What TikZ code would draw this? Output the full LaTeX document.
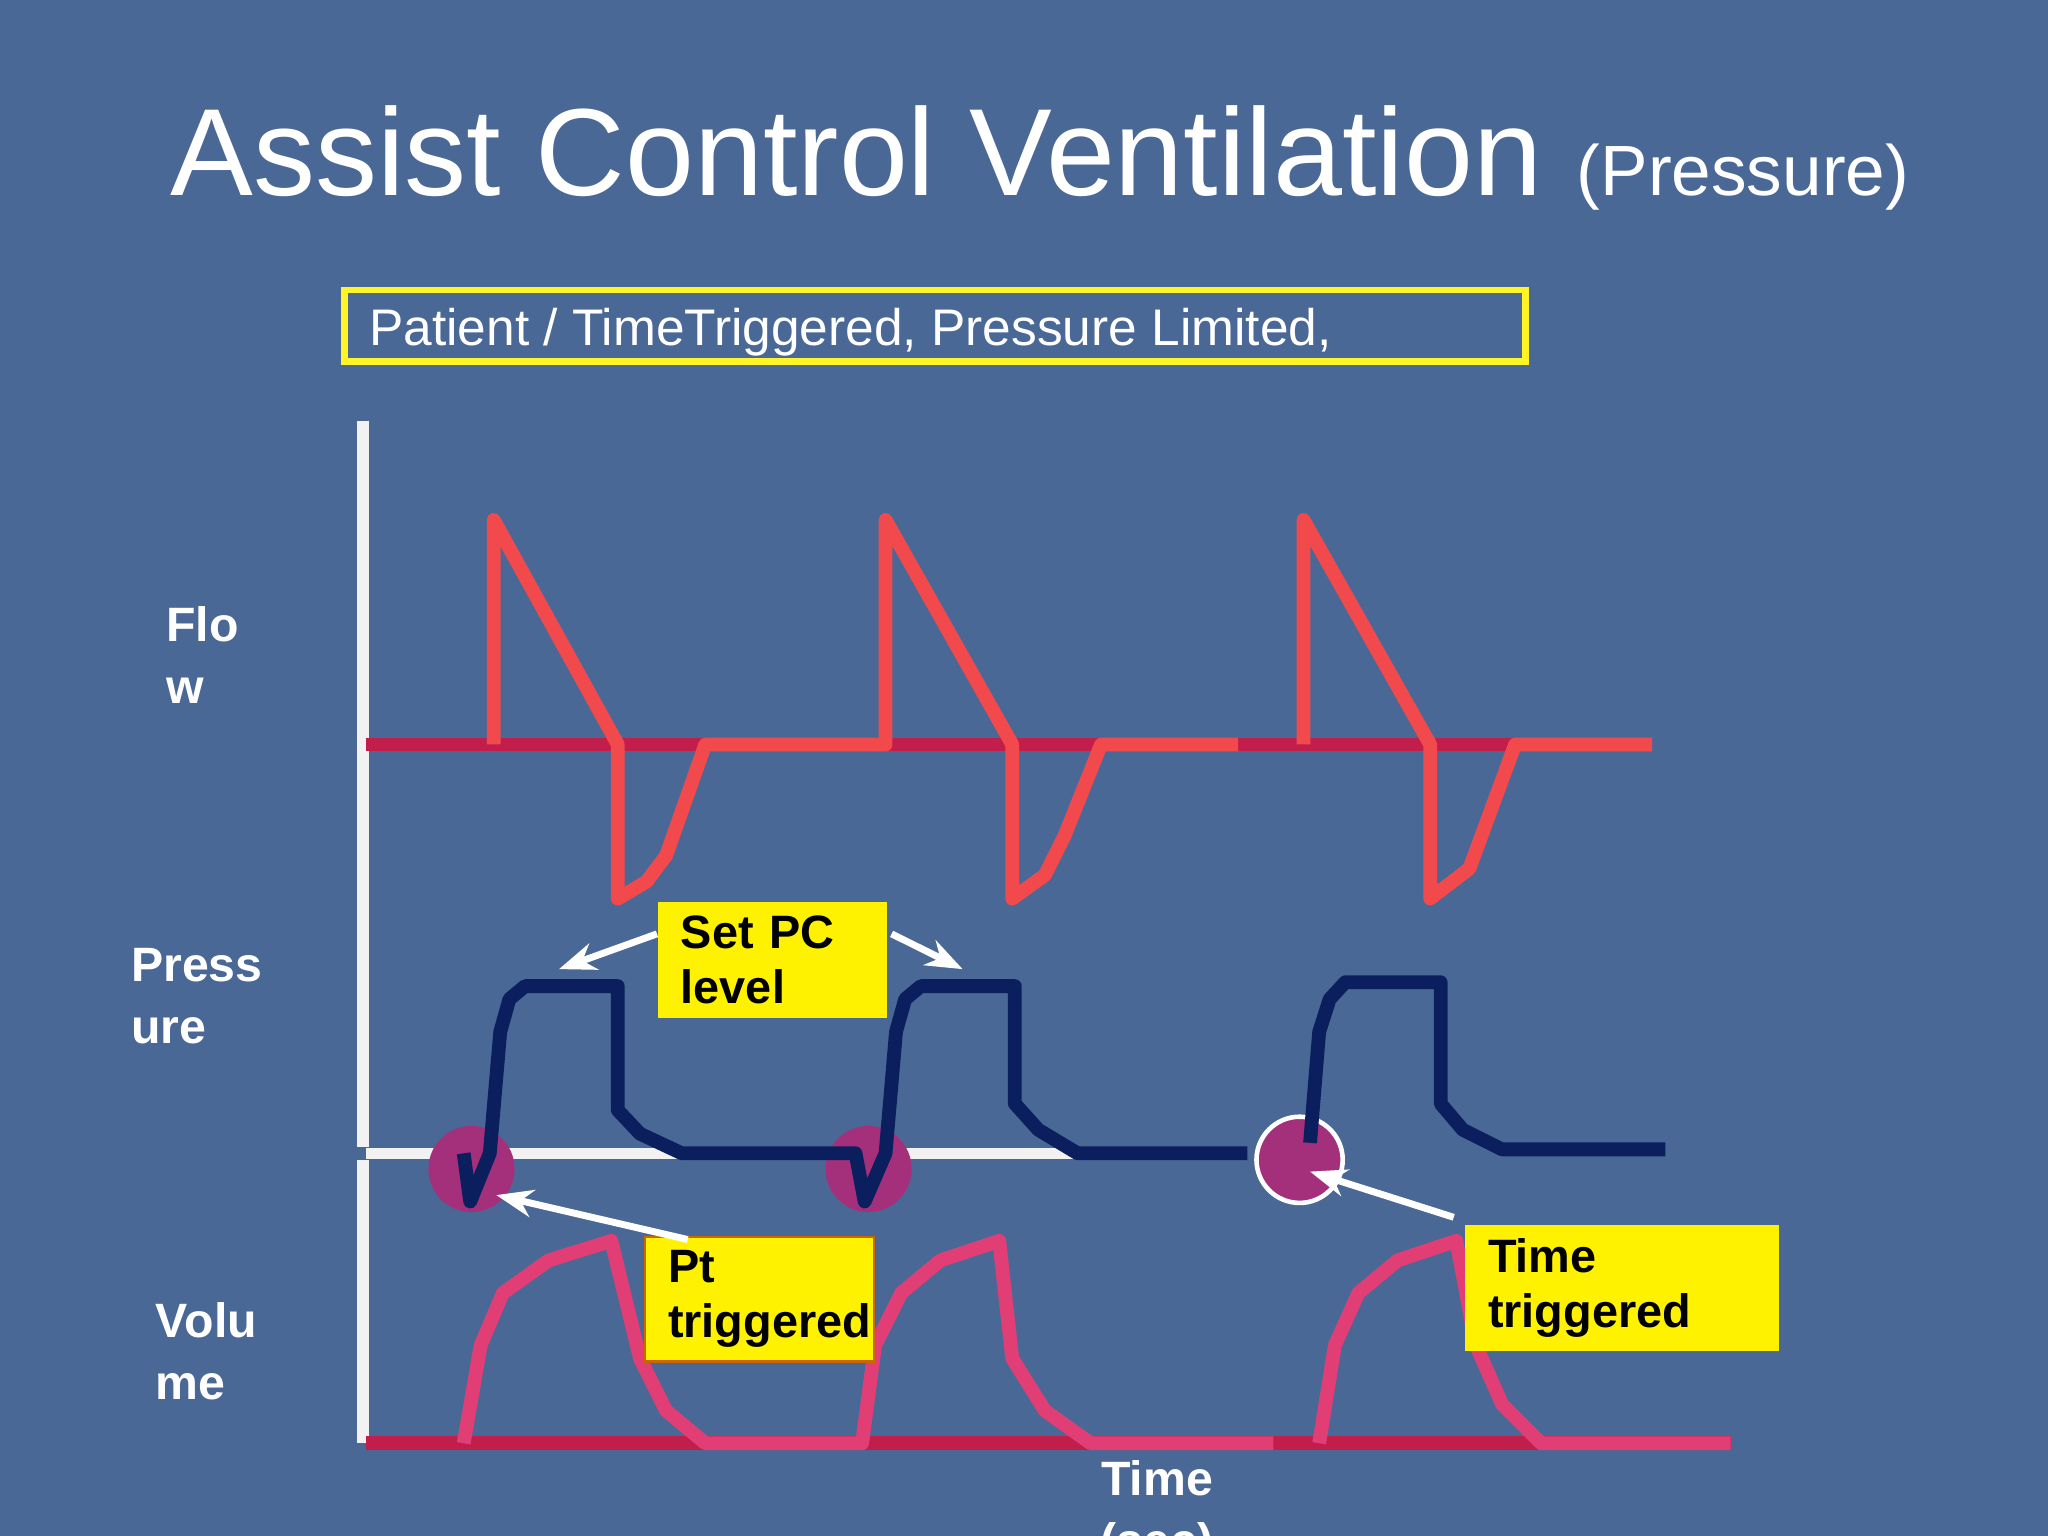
\documentclass[tikz,border=0pt]{standalone}
\usepackage{fontspec}
\setmainfont{Liberation Sans}
\usetikzlibrary{arrows.meta}
\definecolor{slide}{HTML}{4A6896}
\definecolor{flowred}{HTML}{F24A4C}
\definecolor{navy}{HTML}{0B1F5E}
\definecolor{volpink}{HTML}{E23E76}
\definecolor{basered}{HTML}{C21E4C}
\definecolor{trigger}{HTML}{A4307C}
\begin{document}
\begin{tikzpicture}[x=0.01cm,y=-0.01cm,
	axis/.style={draw=white!90!gray, line width=2.5pt},
	wave/.style={line width=3pt, line join=round},
	lbl/.style={text=white, font=\fontsize{10.5}{13.5}\selectfont\bfseries, align=left, anchor=north west},
	note/.style={fill=yellow, font=\fontsize{10.2}{12}\selectfont\bfseries, align=left, anchor=north west, inner xsep=5pt, inner ysep=3pt, text width=#1},
	ptr/.style={white, line width=1.5pt, -{Stealth[length=8pt]}},
	]
\fill[slide] (0,0) rectangle (1568,1176);
\clip (0,0) rectangle (1568,1176);

% title
\node[text=white, font=\fontsize{27}{30}\selectfont, anchor=base west, inner sep=0pt] (title) at (130,150) {Assist Control Ventilation \fontsize{15.5}{18}\selectfont(Pressure)};
\draw[yellow!85!white, line width=1.5pt] (264,222) rectangle (1168,277);
\node[text=white, font=\fontsize{11.2}{14}\selectfont, anchor=west, inner sep=0pt] (mode) at (282,254) {Patient / TimeTriggered, Pressure Limited,};

% axes
\draw[axis] (278,322) -- (278,878);
\draw[axis] (278,888) -- (278,1105);
\draw[axis] (280,883) -- (955,883);
\draw[basered, line width=3pt] (280,570) -- (1265,570);
\draw[basered, line width=3pt] (280,1105) -- (1325,1105);

% flow
\draw[flowred, wave] (378,570) -- (378,398) -- (473,570) -- (473,688) -- (495,675) -- (510,655) -- (540,570)
	-- (678,570) -- (678,398) -- (775,570) -- (775,688) -- (800,670) -- (815,640) -- (843,570)
	-- (948,570);
\draw[flowred, wave] (998,570) -- (998,398) -- (1095,570) -- (1095,688) -- (1125,665) -- (1160,570) -- (1265,570);

% trigger circles
\fill[trigger] (361,895) circle (33);
\fill[trigger] (665,895) circle (33);
\filldraw[fill=trigger, draw=white, line width=1pt] (995,888) circle (33);

% pressure
\draw[navy, wave] (355,883) -- (360,920) -- (375,883) -- (383,790) -- (390,765) -- (402,755) -- (473,755) -- (473,850)
	-- (490,868) -- (522,883) -- (640,883) -- (655,883) -- (662,920) -- (678,883) -- (686,790) -- (693,765) -- (705,755)
	-- (777,755) -- (777,845) -- (795,865) -- (825,883) -- (955,883);
\draw[navy, wave] (1003,875) -- (1010,790) -- (1018,765) -- (1030,752) -- (1103,752) -- (1103,845) -- (1120,865)
	-- (1150,880) -- (1275,880);

% volume
\draw[volpink, wave] (355,1105) -- (368,1030) -- (385,990) -- (420,965) -- (468,950) -- (490,1040) -- (510,1080) -- (540,1105)
	-- (660,1105) -- (670,1030) -- (690,990) -- (720,965) -- (765,950) -- (775,1040) -- (800,1080) -- (835,1105) -- (975,1105);
\draw[volpink, wave] (1010,1105) -- (1022,1030) -- (1040,990) -- (1070,965) -- (1115,950) -- (1130,1030) -- (1150,1075)
	-- (1180,1105) -- (1325,1105);

% labels
\node[lbl] (flow) at (115,452) {Flo\\w};
\node[lbl] (press) at (88,714) {Press\\ure};
\node[lbl] (vol) at (107,985) {Volu\\me};
\node[lbl, align=center, anchor=north] (time) at (886,1106) {Time\\(sec)};

% notes
\node[note=1.4cm] (setpc) at (503,690) {Set PC\\level};
\node[note=1.4cm, draw=orange!80!black, line width=0.5pt] (pt) at (493,946) {Pt\\triggered};
\node[note=2.05cm] (timetrig) at (1121,937) {Time\\triggered};

\coordinate (pcA) at (428,742);
\coordinate (pcB) at (737,742);
\coordinate (ptA) at (380,915);
\coordinate (ttA) at (1003,897);
\draw[ptr] (setpc.north west) ++(0,25) -- (pcA);
\draw[ptr] (setpc.north east) ++(3,25) -- (pcB);
\draw[ptr] (pt.north) ++(-55,3) -- (ptA);
\draw[ptr] (timetrig.north west) ++(-8,-5) -- (ttA);
\end{tikzpicture}
\end{document}
